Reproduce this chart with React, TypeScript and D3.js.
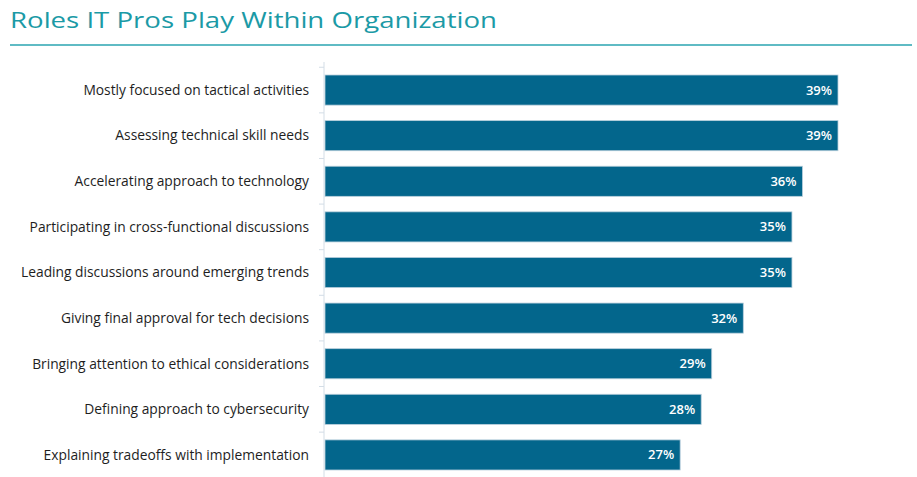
import React from "react";
import * as d3 from "d3";

const TITLE = "Roles IT Pros Play Within Organization";
const categories = [
  "Mostly focused on tactical activities",
  "Assessing technical skill needs",
  "Accelerating approach to technology",
  "Participating in cross-functional discussions",
  "Leading discussions around emerging trends",
  "Giving final approval for tech decisions",
  "Bringing attention to ethical considerations",
  "Defining approach to cybersecurity",
  "Explaining tradeoffs with implementation",
];
const values = [39.0, 39.0, 36.3, 35.5, 35.5, 31.8, 29.4, 28.6, 27.0];
const valueLabels = ["39%", "39%", "36%", "35%", "35%", "32%", "29%", "28%", "27%"];

const W = 917;
const H = 477;

export default function App() {
  const x = d3.scaleLinear().domain([0, 39]).range([325, 838]);
  const y = d3
    .scaleBand<string>()
    .domain(categories)
    .range([59.5, 485.5])
    .paddingInner(0.34)
    .paddingOuter(0.34);
  const step = y.step();
  const bw = y.bandwidth();
  const ticks = d3.range(categories.length + 1).map((i) => (y(categories[0]) as number) - (step - bw) / 2 + i * step);

  return (
    <svg
      width={W}
      height={H}
      style={{ position: "absolute", left: 0, top: 0, background: "#fff" }}
    >
      <text
        x={10}
        y={28}
        fill="#1b9aa6"
        fontFamily="'Open Sans', sans-serif"
        fontSize={21.5}
        fontWeight={500}
        textLength={487}
        lengthAdjust="spacingAndGlyphs"
      >
        {TITLE}
      </text>
      <line x1={10} x2={912} y1={45} y2={45} stroke="#2aa4b0" strokeWidth={1.3} />

      <line x1={324} x2={324} y1={62} y2={477} stroke="#d3dde6" strokeWidth={1} />
      {ticks.map((t, i) => (
        <line key={i} x1={319} x2={324} y1={t} y2={t} stroke="#d3dde6" strokeWidth={1} />
      ))}

      {categories.map((c, i) => {
        const yy = y(c) as number;
        return (
          <g key={c}>
            <rect
              x={x(0)}
              y={yy}
              width={x(values[i]) - x(0)}
              height={bw}
              fill="#03668c"
              stroke="#b9cfdc"
              strokeWidth={0.8}
            />
            <text
              x={309}
              y={yy + bw / 2}
              dy="0.35em"
              textAnchor="end"
              fill="#1e1e1e"
              fontFamily="'Open Sans', sans-serif"
              fontSize={13.8}
            >
              {c}
            </text>
            <text
              x={x(values[i]) - 6}
              y={yy + bw / 2}
              dy="0.35em"
              textAnchor="end"
              fill="#ffffff"
              fontFamily="'Open Sans', sans-serif"
              fontWeight={600}
              fontSize={13}
            >
              {valueLabels[i]}
            </text>
          </g>
        );
      })}
    </svg>
  );
}
